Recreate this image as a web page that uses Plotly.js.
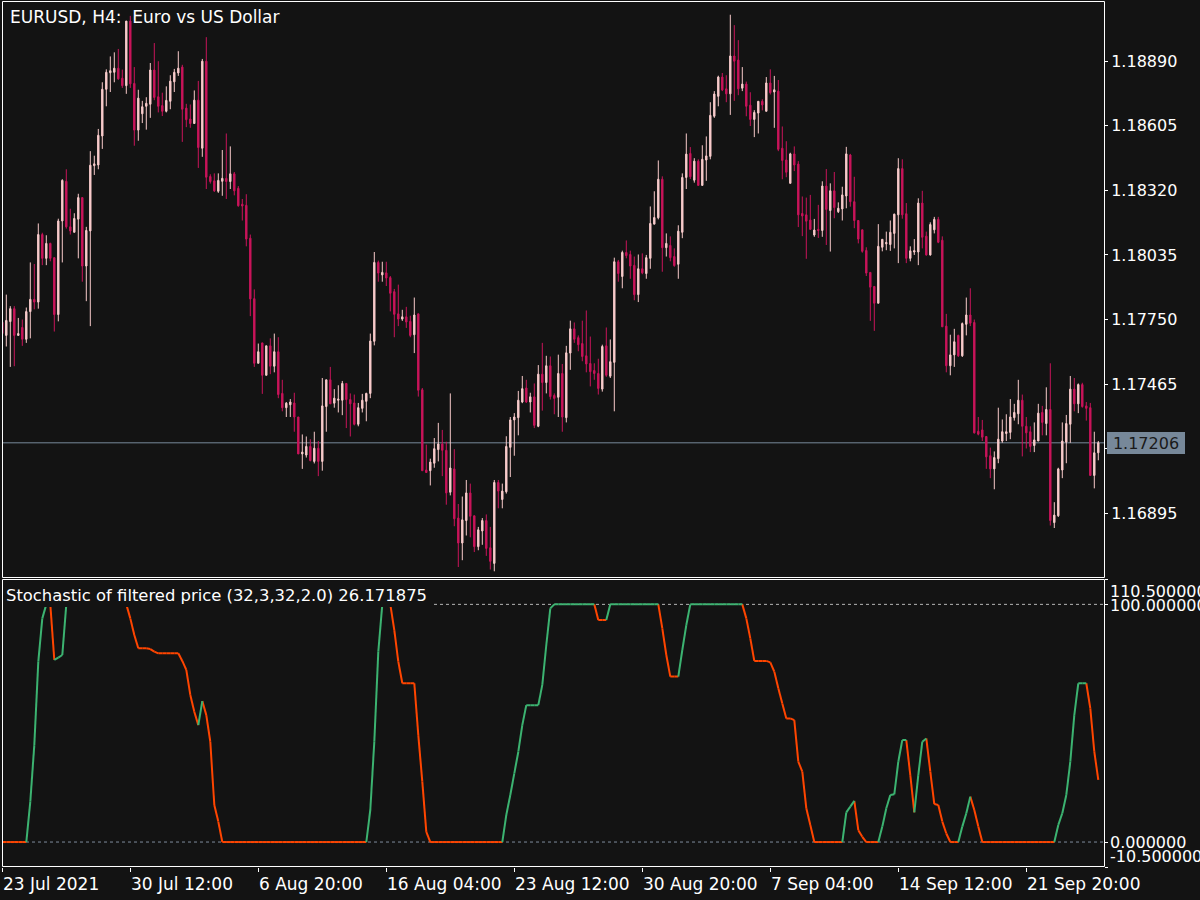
<!DOCTYPE html>
<html><head><meta charset="utf-8">
<script src="https://cdn.plot.ly/plotly-3.0.1.min.js"></script>
<style>html,body{margin:0;padding:0;background:#131313;}#chart{width:1200px;height:900px;}</style>
</head><body><div id="chart"></div>
<script>
// ---- data (EURUSD H4) ----
const openP = [
1.17738,1.17680,1.17741,1.17798,1.17680,1.17715,1.17663,1.17785,1.17839,1.17827,
1.18125,1.18020,1.18086,1.18023,1.17772,1.18185,1.18360,1.18159,1.18135,1.18193,
1.18288,1.17986,1.18141,1.18429,1.18432,1.18560,1.18766,1.18839,1.18841,1.18859,
1.18815,1.18782,1.19067,1.18792,1.18586,1.18658,1.18691,1.18700,1.18851,1.18733,
1.18694,1.18669,1.18713,1.18799,1.18838,1.18864,1.18683,1.18635,1.18615,1.18718,
1.18506,1.18890,1.18381,1.18362,1.18316,1.18360,1.18373,1.18359,1.18393,1.18329,
1.18259,1.18254,1.18109,1.17842,1.17557,1.17647,1.17504,1.17634,1.17544,1.17608,
1.17424,1.17361,1.17374,1.17382,1.17320,1.17157,1.17152,1.17190,1.17124,1.17182,
1.17124,1.17366,1.17484,1.17381,1.17394,1.17394,1.17468,1.17397,1.17382,1.17288,
1.17358,1.17389,1.17424,1.17654,1.18002,1.17947,1.17956,1.17935,1.17873,1.17775,
1.17752,1.17762,1.17742,1.17683,1.17775,1.17440,1.17086,1.17083,1.17116,1.17176,
1.17201,1.17173,1.16988,1.17091,1.16874,1.16764,1.16863,1.16985,1.16884,1.16748,
1.16817,1.16863,1.16743,1.16674,1.17031,1.16956,1.16990,1.17186,1.17307,1.17317,
1.17386,1.17448,1.17386,1.17409,1.17279,1.17509,1.17472,1.17546,1.17415,1.17407,
1.17512,1.17317,1.17602,1.17709,1.17670,1.17644,1.17590,1.17556,1.17525,1.17512,
1.17443,1.17634,1.17500,1.17561,1.18005,1.17940,1.18046,1.18037,1.17989,1.17860,
1.17974,1.17953,1.18020,1.18171,1.18199,1.18369,1.18067,1.18077,1.18028,1.17994,
1.18135,1.18377,1.18483,1.18365,1.18449,1.18342,1.18454,1.18470,1.18647,1.18735,
1.18820,1.18768,1.18746,1.18913,1.18895,1.18771,1.18789,1.18696,1.18633,1.18661,
1.18713,1.18669,1.18794,1.18754,1.18758,1.18506,1.18454,1.18351,1.18481,1.18436,
1.18218,1.18212,1.18189,1.18123,1.18148,1.18143,1.18339,1.18231,1.18318,1.18226,
1.18238,1.18295,1.18476,1.18270,1.18187,1.18146,1.18055,1.17958,1.17896,1.17822,
1.18069,1.18084,1.18081,1.18130,1.18212,1.18416,1.18217,1.18020,1.18048,1.18048,
1.18264,1.18118,1.18035,1.18146,1.18192,1.18100,1.17721,1.17546,1.17594,1.17680,
1.17590,1.17729,1.17770,1.17737,1.17257,1.17263,1.17234,1.17149,1.17091,1.17136,
1.17214,1.17247,1.17252,1.17317,1.17334,1.17394,1.17279,1.17255,1.17194,1.17214,
1.17340,1.17291,1.17353,1.16854,1.16884,1.17086,1.17209,1.17288,1.17443,1.17378,
1.17463,1.17369,1.17361,1.17062,1.17162];
const highP = [
1.17778,1.17860,1.17809,1.17809,1.17757,1.17750,1.17803,1.18002,1.17995,1.18174,
1.18133,1.18122,1.18089,1.18023,1.18195,1.18369,1.18413,1.18239,1.18219,1.18305,
1.18288,1.18159,1.18493,1.18473,1.18591,1.18797,1.18854,1.18911,1.18929,1.18944,
1.18853,1.19067,1.19090,1.18864,1.18764,1.18715,1.18731,1.18882,1.18970,1.18890,
1.18751,1.18779,1.18828,1.18856,1.18934,1.18874,1.18702,1.18699,1.18761,1.18803,
1.18900,1.18996,1.18391,1.18395,1.18395,1.18498,1.18571,1.18514,1.18401,1.18339,
1.18282,1.18303,1.18125,1.17883,1.17644,1.17647,1.17634,1.17667,1.17688,1.17672,
1.17484,1.17386,1.17399,1.17427,1.17320,1.17243,1.17234,1.17222,1.17255,1.17214,
1.17492,1.17484,1.17541,1.17443,1.17460,1.17479,1.17468,1.17424,1.17419,1.17382,
1.17422,1.17427,1.17688,1.18048,1.18010,1.18005,1.18005,1.17942,1.17885,1.17904,
1.17793,1.17806,1.17767,1.17847,1.17775,1.17448,1.17198,1.17136,1.17227,1.17294,
1.17263,1.17211,1.17424,1.17178,1.16936,1.16969,1.17042,1.17026,1.16884,1.16835,
1.16874,1.16890,1.16835,1.17042,1.17042,1.17026,1.17235,1.17320,1.17337,1.17435,
1.17501,1.17484,1.17427,1.17468,1.17549,1.17647,1.17590,1.17587,1.17424,1.17595,
1.17554,1.17634,1.17745,1.17737,1.17680,1.17745,1.17790,1.17675,1.17557,1.17577,
1.17639,1.17715,1.17662,1.18023,1.18013,1.18054,1.18099,1.18054,1.18028,1.18037,
1.18042,1.18035,1.18249,1.18316,1.18452,1.18382,1.18130,1.18117,1.18064,1.18166,
1.18395,1.18571,1.18511,1.18462,1.18457,1.18519,1.18558,1.18709,1.18758,1.18826,
1.18838,1.18828,1.19095,1.19049,1.18983,1.18864,1.18800,1.18753,1.18674,1.18713,
1.18722,1.18820,1.18854,1.18825,1.18807,1.18602,1.18537,1.18486,1.18514,1.18449,
1.18293,1.18288,1.18300,1.18194,1.18256,1.18360,1.18414,1.18351,1.18401,1.18267,
1.18336,1.18512,1.18481,1.18380,1.18189,1.18146,1.18069,1.17958,1.17896,1.18171,
1.18104,1.18138,1.18187,1.18217,1.18462,1.18457,1.18264,1.18073,1.18105,1.18285,
1.18318,1.18138,1.18179,1.18203,1.18203,1.18117,1.17775,1.17683,1.17709,1.17683,
1.17737,1.17847,1.17888,1.17750,1.17320,1.17307,1.17234,1.17185,1.17168,1.17361,
1.17309,1.17332,1.17399,1.17378,1.17484,1.17419,1.17320,1.17279,1.17296,1.17378,
1.17369,1.17451,1.17557,1.16944,1.17096,1.17296,1.17329,1.17501,1.17492,1.17468,
1.17471,1.17386,1.17382,1.17255,1.17214];
const lowP = [
1.17672,1.17631,1.17541,1.17544,1.17680,1.17634,1.17647,1.17667,1.17795,1.17798,
1.17990,1.17990,1.18007,1.17697,1.17742,1.18002,1.18151,1.18125,1.18135,1.18020,
1.17917,1.17831,1.17721,1.18388,1.18413,1.18503,1.18691,1.18754,1.18797,1.18808,
1.18772,1.18746,1.18772,1.18517,1.18539,1.18617,1.18588,1.18640,1.18718,1.18664,
1.18648,1.18664,1.18678,1.18754,1.18825,1.18534,1.18599,1.18596,1.18615,1.18419,
1.18468,1.18326,1.18350,1.18313,1.18309,1.18296,1.18282,1.18326,1.18298,1.18248,
1.18187,1.18073,1.17765,1.17541,1.17557,1.17422,1.17504,1.17509,1.17517,1.17403,
1.17345,1.17320,1.17320,1.17255,1.17157,1.17091,1.17141,1.17124,1.17115,1.17059,
1.17083,1.17255,1.17378,1.17361,1.17340,1.17328,1.17271,1.17234,1.17283,1.17279,
1.17340,1.17301,1.17403,1.17636,1.17917,1.17917,1.17898,1.17786,1.17672,1.17721,
1.17744,1.17713,1.17672,1.17602,1.17410,1.17083,1.17075,1.17018,1.17096,1.17124,
1.17059,1.16933,1.16974,1.16838,1.16658,1.16688,1.16797,1.16789,1.16724,1.16732,
1.16756,1.16707,1.16647,1.16639,1.16917,1.16917,1.16982,1.17055,1.17149,1.17239,
1.17381,1.17382,1.17340,1.17271,1.17275,1.17348,1.17424,1.17397,1.17332,1.17320,
1.17255,1.17296,1.17528,1.17647,1.17610,1.17566,1.17517,1.17455,1.17484,1.17419,
1.17432,1.17497,1.17492,1.17345,1.17917,1.17888,1.18020,1.17930,1.17835,1.17827,
1.17950,1.17930,1.17974,1.18171,1.18192,1.17961,1.18028,1.18007,1.17983,1.17930,
1.18109,1.18326,1.18370,1.18354,1.18342,1.18342,1.18362,1.18457,1.18640,1.18691,
1.18758,1.18709,1.18653,1.18715,1.18740,1.18758,1.18647,1.18604,1.18555,1.18571,
1.18673,1.18669,1.18743,1.18596,1.18493,1.18369,1.18378,1.18351,1.18405,1.18158,
1.18118,1.18018,1.18145,1.18115,1.18110,1.18115,1.18079,1.18050,1.18197,1.18220,
1.18187,1.18241,1.18248,1.18153,1.18086,1.18045,1.17942,1.17744,1.17700,1.17822,
1.18051,1.18056,1.18053,1.18064,1.17999,1.18195,1.17999,1.18007,1.18035,1.17990,
1.18064,1.18032,1.18032,1.18130,1.18087,1.17718,1.17517,1.17504,1.17541,1.17585,
1.17585,1.17680,1.17721,1.17247,1.17239,1.17214,1.17091,1.17050,1.17001,1.17116,
1.17206,1.17214,1.17222,1.17304,1.17288,1.17146,1.17181,1.17165,1.17165,1.17214,
1.17239,1.17239,1.16841,1.16830,1.16879,1.17050,1.17116,1.17206,1.17345,1.17337,
1.17361,1.17304,1.17062,1.17005,1.17129];
const closeP = [
1.17688,1.17746,1.17798,1.17680,1.17688,1.17663,1.17785,1.17839,1.17827,1.18125,
1.18020,1.18086,1.18020,1.17772,1.18185,1.18364,1.18159,1.18141,1.18196,1.18288,
1.17986,1.18143,1.18431,1.18437,1.18563,1.18766,1.18841,1.18848,1.18859,1.18812,
1.18782,1.19067,1.18790,1.18586,1.18727,1.18689,1.18704,1.18851,1.18730,1.18691,
1.18669,1.18717,1.18802,1.18841,1.18859,1.18678,1.18632,1.18615,1.18718,1.18509,
1.18890,1.18378,1.18359,1.18318,1.18364,1.18373,1.18359,1.18393,1.18318,1.18252,
1.18251,1.18105,1.17841,1.17557,1.17608,1.17504,1.17634,1.17544,1.17608,1.17419,
1.17361,1.17381,1.17386,1.17320,1.17157,1.17165,1.17190,1.17128,1.17182,1.17124,
1.17369,1.17484,1.17378,1.17403,1.17399,1.17468,1.17397,1.17378,1.17288,1.17361,
1.17394,1.17424,1.17655,1.18002,1.17955,1.17958,1.17933,1.17866,1.17773,1.17752,
1.17762,1.17739,1.17680,1.17770,1.17438,1.17083,1.17075,1.17121,1.17180,1.17201,
1.17173,1.16985,1.17095,1.16871,1.16764,1.16866,1.16985,1.16882,1.16748,1.16822,
1.16863,1.16740,1.16683,1.17031,1.16993,1.16993,1.17190,1.17307,1.17320,1.17394,
1.17445,1.17386,1.17409,1.17283,1.17509,1.17472,1.17546,1.17410,1.17402,1.17512,
1.17320,1.17603,1.17709,1.17663,1.17639,1.17587,1.17554,1.17520,1.17512,1.17446,
1.17631,1.17504,1.17564,1.18005,1.17953,1.18046,1.18032,1.17986,1.17860,1.17974,
1.17956,1.18023,1.18174,1.18200,1.18369,1.18067,1.18086,1.18023,1.17988,1.18140,
1.18377,1.18480,1.18380,1.18449,1.18342,1.18457,1.18472,1.18651,1.18745,1.18820,
1.18763,1.18746,1.18913,1.18890,1.18768,1.18789,1.18691,1.18633,1.18664,1.18713,
1.18697,1.18794,1.18751,1.18764,1.18501,1.18452,1.18400,1.18481,1.18432,1.18212,
1.18207,1.18184,1.18148,1.18145,1.18143,1.18339,1.18236,1.18318,1.18244,1.18241,
1.18300,1.18481,1.18270,1.18187,1.18105,1.18051,1.17955,1.17893,1.17822,1.18073,
1.18104,1.18090,1.18135,1.18215,1.18416,1.18212,1.18020,1.18053,1.18054,1.18264,
1.18113,1.18035,1.18169,1.18192,1.18091,1.17718,1.17546,1.17594,1.17652,1.17590,
1.17732,1.17770,1.17734,1.17250,1.17244,1.17231,1.17144,1.17091,1.17141,1.17222,
1.17255,1.17255,1.17320,1.17340,1.17394,1.17279,1.17250,1.17190,1.17219,1.17337,
1.17296,1.17353,1.16863,1.16887,1.17091,1.17214,1.17291,1.17443,1.17378,1.17463,
1.17366,1.17358,1.17062,1.17162,1.17206];
const stochValues = [
0,0,0,0,0,0,0,17.0,40.8,75.9,
94.1,100,100,76.6,77.6,78.7,100,100,100,100,
100,100,100,100,100,100,100,100,100,100,
100,100,94.1,87.1,81.5,81.5,81.5,81.2,80.1,79.4,
79.4,79.4,79.4,79.4,79.4,76.2,72.4,61.9,54.8,49.2,
59.3,53.4,42.2,15.6,8.6,0,0,0,0,0,
0,0,0,0,0,0,0,0,0,0,
0,0,0,0,0,0,0,0,0,0,
0,0,0,0,0,0,0,0,0,0,
0,0,13.5,42.2,80.1,100,100,100,89.2,75.9,
66.8,66.8,66.8,66.8,45.0,25.4,4.3,0,0,0,
0,0,0,0,0,0,0,0,0,0,
0,0,0,0,0,0,11.4,19.8,28.9,38.0,
49.2,57.6,57.6,57.6,57.6,66.1,82.9,98.3,100,100,
100,100,100,100,100,100,100,100,100,93.4,
93.4,93.4,100,100,100,100,100,100,100,100,
100,100,100,100,100,89.9,78.7,69.6,69.6,69.6,
80.8,91.3,100,100,100,100,100,100,100,100,
100,100,100,100,100,100,94.1,85.7,76.2,76.2,
76.2,76.2,75.6,71.7,64.7,58.3,52.0,52.0,51.3,33.8,
29.6,14.2,7.2,0,0,0,0,0,0,0,
0,12.5,14.9,17.3,5.0,2.2,0,0,0,0,
6.5,14.2,19.8,20.1,33.8,42.9,42.9,28.2,12.5,28.2,
42.2,43.6,29.6,16.0,15.6,8.6,3.6,0,0,0,
6.5,12.1,19.1,13.5,6.5,0,0,0,0,0,
0,0,0,0,0,0,0,0,0,0,
0,0,0,0,7.2,12.1,19.8,33.8,53.4,66.8,
66.8,66.8,56.2,38.0,26.171875];
const tickBars = [0,32,64,96,128,160,192,224,256];
const tickLabels = ["23 Jul 2021","30 Jul 12:00","6 Aug 20:00","16 Aug 04:00","23 Aug 12:00","30 Aug 20:00","7 Sep 04:00","14 Sep 12:00","21 Sep 20:00"];
const priceTicks = [1.16895,1.17180,1.17465,1.17750,1.18035,1.18320,1.18605,1.18890];
const stochLevels = [0,100];
const stochBounds = [-10.5,110.5];
const titleText = "EURUSD, H4:\u00a0 Euro vs US Dollar";
const indicatorName = "Stochastic of filtered price (32,3,32,2.0)";

// ---- styling / geometry ----
const BG = "#131313", BULL = "#F8CACA", BEAR = "#C8145A";
const UP = "#3CB371", DN = "#FF4500", FG = "#FFFFFF";
const FONT = "DejaVu Sans";
const L = 2, R = 1104, T = 2, B = 867, W = R - L, H = B - T;
const px2x = p => (p - L) / W;
const py2y = p => (B - p) / H;

const bars = openP.map((_, i) => i);

// split stochastic into rising / falling segments
const upX = [], upY = [], dnX = [], dnY = [];
let dir = -1;
for (let i = 1; i < stochValues.length; i++) {
  const a = stochValues[i - 1], b = stochValues[i];
  if (b > a) dir = 1; else if (b < a) dir = -1;
  const X = dir > 0 ? upX : dnX, Y = dir > 0 ? upY : dnY;
  X.push(i - 1, i, null); Y.push(a, b, null);
}

const traces = [
  {type: "candlestick", x: bars, open: openP, high: highP, low: lowP, close: closeP,
   xaxis: "x", yaxis: "y", whiskerwidth: 0,
   increasing: {line: {color: BULL, width: 1}, fillcolor: BULL},
   decreasing: {line: {color: BEAR, width: 1}, fillcolor: BEAR},
   hoverinfo: "skip", showlegend: false},
  {type: "scatter", mode: "lines", x: dnX, y: dnY, xaxis: "x", yaxis: "y2",
   line: {color: DN, width: 2}, connectgaps: false, hoverinfo: "skip", showlegend: false},
  {type: "scatter", mode: "lines", x: upX, y: upY, xaxis: "x", yaxis: "y2",
   line: {color: UP, width: 2}, connectgaps: false, hoverinfo: "skip", showlegend: false}
];

const lastClose = closeP[closeP.length - 1];
const lastStoch = stochValues[stochValues.length - 1];

const shapes = [
  // level lines
  {type: "line", xref: "paper", yref: "y2", x0: 0, x1: 1, y0: stochLevels[1], y1: stochLevels[1],
   line: {color: "#B4B4B4", width: 1, dash: "3px,3px"}, layer: "below"},
  {type: "line", xref: "paper", yref: "y2", x0: 0, x1: 1, y0: stochLevels[0], y1: stochLevels[0],
   line: {color: "#7E8C9C", width: 1, dash: "3px,3px"}, layer: "below"},
  // bid line
  {type: "line", xref: "paper", yref: "y", x0: 0, x1: 1, y0: lastClose, y1: lastClose,
   line: {color: "#778899", width: 1}, layer: "below"},
  // label background in indicator window
  {type: "rect", xref: "paper", yref: "paper", x0: px2x(3), x1: px2x(433), y0: py2y(607), y1: py2y(580.2),
   fillcolor: BG, line: {width: 0}, layer: "above"},
  // frames
  {type: "rect", xref: "paper", yref: "paper", x0: px2x(2.5), x1: px2x(1104.5), y0: py2y(577.5), y1: py2y(1.5),
   line: {color: FG, width: 1}, fillcolor: "rgba(0,0,0,0)", layer: "above"},
  {type: "rect", xref: "paper", yref: "paper", x0: px2x(2.5), x1: px2x(1104.5), y0: py2y(866.5), y1: py2y(579.5),
   line: {color: FG, width: 1}, fillcolor: "rgba(0,0,0,0)", layer: "above"}
];

const annotations = [
  {xref: "paper", yref: "paper", x: px2x(9), y: py2y(16.5), xanchor: "left", yanchor: "middle",
   text: titleText, showarrow: false, font: {family: FONT, size: 17, color: FG}, borderpad: 0},
  {xref: "paper", yref: "paper", x: px2x(5), y: py2y(595), xanchor: "left", yanchor: "middle",
   text: indicatorName + " " + String(lastStoch), showarrow: false,
   font: {family: FONT, size: 16.4, color: FG}, borderpad: 0},
  {xref: "paper", yref: "y", x: px2x(1107), y: lastClose, xanchor: "left", yanchor: "middle",
   text: lastClose.toFixed(5), showarrow: false, bgcolor: "#778899", borderpad: 0, borderwidth: 0,
   width: 78, height: 22, font: {family: FONT, size: 16, color: "#1A1A1A"}},
  {xref: "paper", yref: "paper", x: px2x(1109), y: py2y(591), xanchor: "left", yanchor: "middle",
   text: stochBounds[1].toFixed(6), showarrow: false, font: {family: FONT, size: 16, color: FG}, borderpad: 0},
  {xref: "paper", yref: "paper", x: px2x(1109), y: py2y(605), xanchor: "left", yanchor: "middle",
   text: stochLevels[1].toFixed(6), showarrow: false, font: {family: FONT, size: 16, color: FG}, borderpad: 0},
  {xref: "paper", yref: "paper", x: px2x(1109), y: py2y(842), xanchor: "left", yanchor: "middle",
   text: stochLevels[0].toFixed(6), showarrow: false, font: {family: FONT, size: 16, color: FG}, borderpad: 0},
  {xref: "paper", yref: "paper", x: px2x(1109), y: py2y(856.7), xanchor: "left", yanchor: "middle",
   text: stochBounds[0].toFixed(6), showarrow: false, font: {family: FONT, size: 16, color: FG}, borderpad: 0}
];
tickBars.forEach((b, i) => {
  annotations.push({xref: "x", yref: "paper", x: b, y: py2y(883.5), xanchor: "left", yanchor: "middle",
    text: tickLabels[i], showarrow: false, font: {family: FONT, size: 17, color: FG}, borderpad: 0});
});

const layout = {
  width: 1200, height: 900,
  margin: {l: L, r: 1200 - R, t: T, b: 900 - B, pad: 0},
  paper_bgcolor: BG, plot_bgcolor: BG,
  showlegend: false, hovermode: false, boxgap: 0.5,
  xaxis: {domain: [0, 1], range: [-0.075, 275.425], anchor: "y2", showgrid: false, zeroline: false,
          showline: false, tickmode: "array", tickvals: tickBars, ticktext: tickBars.map(() => ""),
          ticks: "outside", ticklen: 4, tickwidth: 1, tickcolor: FG, showticklabels: false,
          rangeslider: {visible: false}, fixedrange: true},
  yaxis: {domain: [py2y(578), 1], range: [1.166095, 1.191512], side: "right", anchor: "x",
          showgrid: false, zeroline: false, showline: false, tickmode: "array",
          tickvals: priceTicks, ticktext: priceTicks.map(v => v.toFixed(5)),
          ticks: "outside", ticklen: 3, tickwidth: 1, tickcolor: FG,
          tickfont: {family: FONT, size: 16, color: FG}, fixedrange: true},
  yaxis2: {domain: [0, py2y(579.4)], range: [stochBounds[0], stochBounds[1]], side: "right", anchor: "x",
           showgrid: false, zeroline: false, showline: false, tickmode: "array",
           tickvals: [stochBounds[0], stochLevels[0], stochLevels[1], stochBounds[1]],
           ticks: "outside", ticklen: 3, tickwidth: 1, tickcolor: FG, showticklabels: false, fixedrange: true},
  shapes: shapes,
  annotations: annotations
};

Plotly.newPlot("chart", traces, layout, {displayModeBar: false, staticPlot: true});
</script>
</body></html>
